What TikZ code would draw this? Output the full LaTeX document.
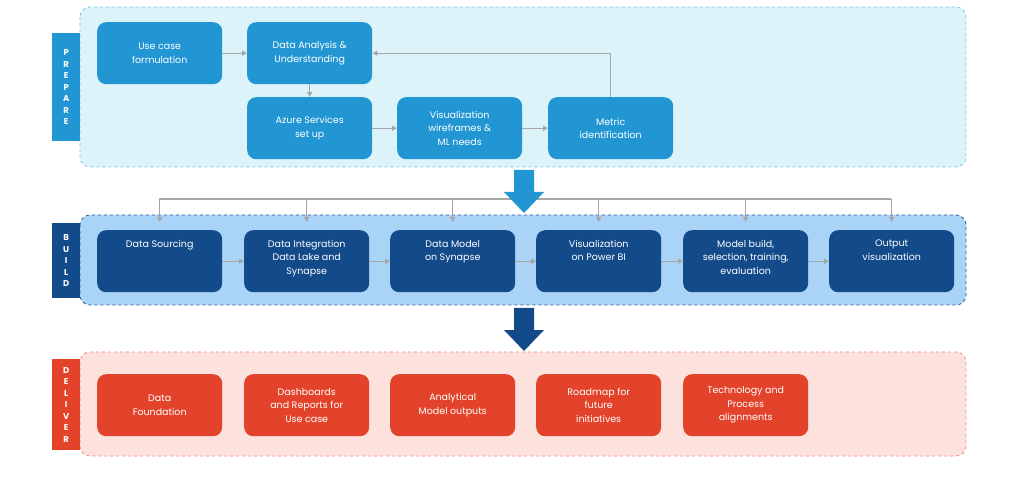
\documentclass[tikz,border=0pt]{standalone}
\usepackage{fontspec}
\setmainfont{Poppins}
\usetikzlibrary{arrows.meta}
\definecolor{pfill}{HTML}{DDF3FA}\definecolor{pline}{HTML}{7FC8E3}\definecolor{pbox}{HTML}{2196D3}
\definecolor{bfill}{HTML}{A9D3F7}\definecolor{bline}{HTML}{2E5A9A}\definecolor{bbox}{HTML}{134A8A}
\definecolor{dfill}{HTML}{FDE1DC}\definecolor{dline}{HTML}{F08A80}\definecolor{dbox}{HTML}{E2432A}
\definecolor{conn}{HTML}{A6A6A6}
\begin{document}
\begin{tikzpicture}[x=1pt,y=-1pt,
 panel/.style={draw,dashed,rounded corners=10pt,line width=0.8pt},
 box/.style={rounded corners=9pt,minimum width=125pt,minimum height=62pt,text=white,align=center,font=\fontsize{9.5}{13.5}\selectfont,anchor=north west,inner sep=0pt},
 tbox/.style={box,text height=none},
 tab/.style={text=white,font=\bfseries\fontsize{8.5}{11.5}\selectfont,align=center,minimum width=28pt,anchor=north west,inner sep=0pt},
 ar/.style={-{Triangle[length=5pt,width=5pt]},conn,line width=1.2pt}]
\useasboundingbox (0,0) rectangle (1027,502);
\fill[white] (0,0) rectangle (1027,502);
% panels
\draw[panel,fill=pfill,draw=pline] (80,7) rectangle (966,167);
\draw[panel,fill=bfill,draw=bline] (80,215) rectangle (966,305);
\draw[panel,fill=dfill,draw=dline] (80,352) rectangle (966,456);
% tabs
\node[tab,fill=pbox,minimum height=108pt] (tp) at (52,33) {P\\R\\E\\P\\A\\R\\E};
\node[tab,fill=bbox,minimum height=75pt] (tb) at (52,223) {B\\U\\I\\L\\D};
\node[tab,fill=dbox,minimum height=91pt] (td) at (52,359) {D\\E\\L\\I\\V\\E\\R};
% prepare boxes
\node[box,fill=pbox] (uc) at (97,22) {Use case\\formulation};
\node[box,fill=pbox] (da) at (247,22) {Data Analysis \&\\Understanding};
\node[box,fill=pbox] (az) at (247,97) {Azure Services\\set up};
\node[box,fill=pbox] (vw) at (397,97) {Visualization\\wireframes \&\\ML needs};
\node[box,fill=pbox] (mi) at (548,97) {Metric\\identification};
\draw[ar] (uc) -- (da);
\draw[ar] (da) -- (az);
\draw[ar] (az) -- (vw);
\draw[ar] (vw) -- (mi);
\draw[ar] (mi.north) |- (da.east);
% build boxes
\foreach \n/\x/\t in {b1/97/{Data Sourcing\\ \\ },b2/244/{Data Integration\\Data Lake and\\Synapse},b3/390/{Data Model\\on Synapse\\ },b4/536/{Visualization\\on Power BI\\ },b5/683/{Model build,\\selection, training,\\evaluation},b6/829/{Output\\visualization\\ }}
  \node[box,fill=bbox,text depth=20pt] (\n) at (\x,230) {};
\foreach \n/\x/\t in {b1/97/{Data Sourcing},b2/244/{Data Integration\\Data Lake and\\Synapse},b3/390/{Data Model\\on Synapse},b4/536/{Visualization\\on Power BI},b5/683/{Model build,\\selection, training,\\evaluation},b6/829/{Output\\visualization}}
  \node[text=white,align=center,font=\fontsize{9.5}{13.5}\selectfont,anchor=north,inner sep=0pt] (\n t) at ([yshift=-10pt]\n.north) {\t};
\foreach \a/\b in {b1/b2,b2/b3,b3/b4,b4/b5,b5/b6} \draw[ar] (\a) -- (\b);
% top distribution
\coordinate (h1) at (159,199); \coordinate (h6) at (891,199);
\draw[conn,line width=1.2pt] (h1) -- (h6);
\foreach \n in {b1,b2,b3,b4,b5,b6} \draw[ar] (\n.north |- h1) -- ([yshift=8pt]\n.north);
% big arrows
\fill[pbox] (514,170) -- (534,170) -- (534,192) -- (544,192) -- (524,213) -- (504,192) -- (514,192) -- cycle;
\fill[bbox] (514,308) -- (534,308) -- (534,330) -- (544,330) -- (524,351) -- (504,330) -- (514,330) -- cycle;
% deliver
\node[box,fill=dbox] (d1) at (97,374) {Data\\Foundation};
\node[box,fill=dbox] (d2) at (244,374) {Dashboards\\and Reports for\\Use case};
\node[box,fill=dbox] (d3) at (390,374) {Analytical\\Model outputs};
\node[box,fill=dbox] (d4) at (536,374) {Roadmap for\\future\\initiatives};
\node[box,fill=dbox] (d5) at (683,374) {Technology and\\Process\\alignments};
\end{tikzpicture}
\end{document}
